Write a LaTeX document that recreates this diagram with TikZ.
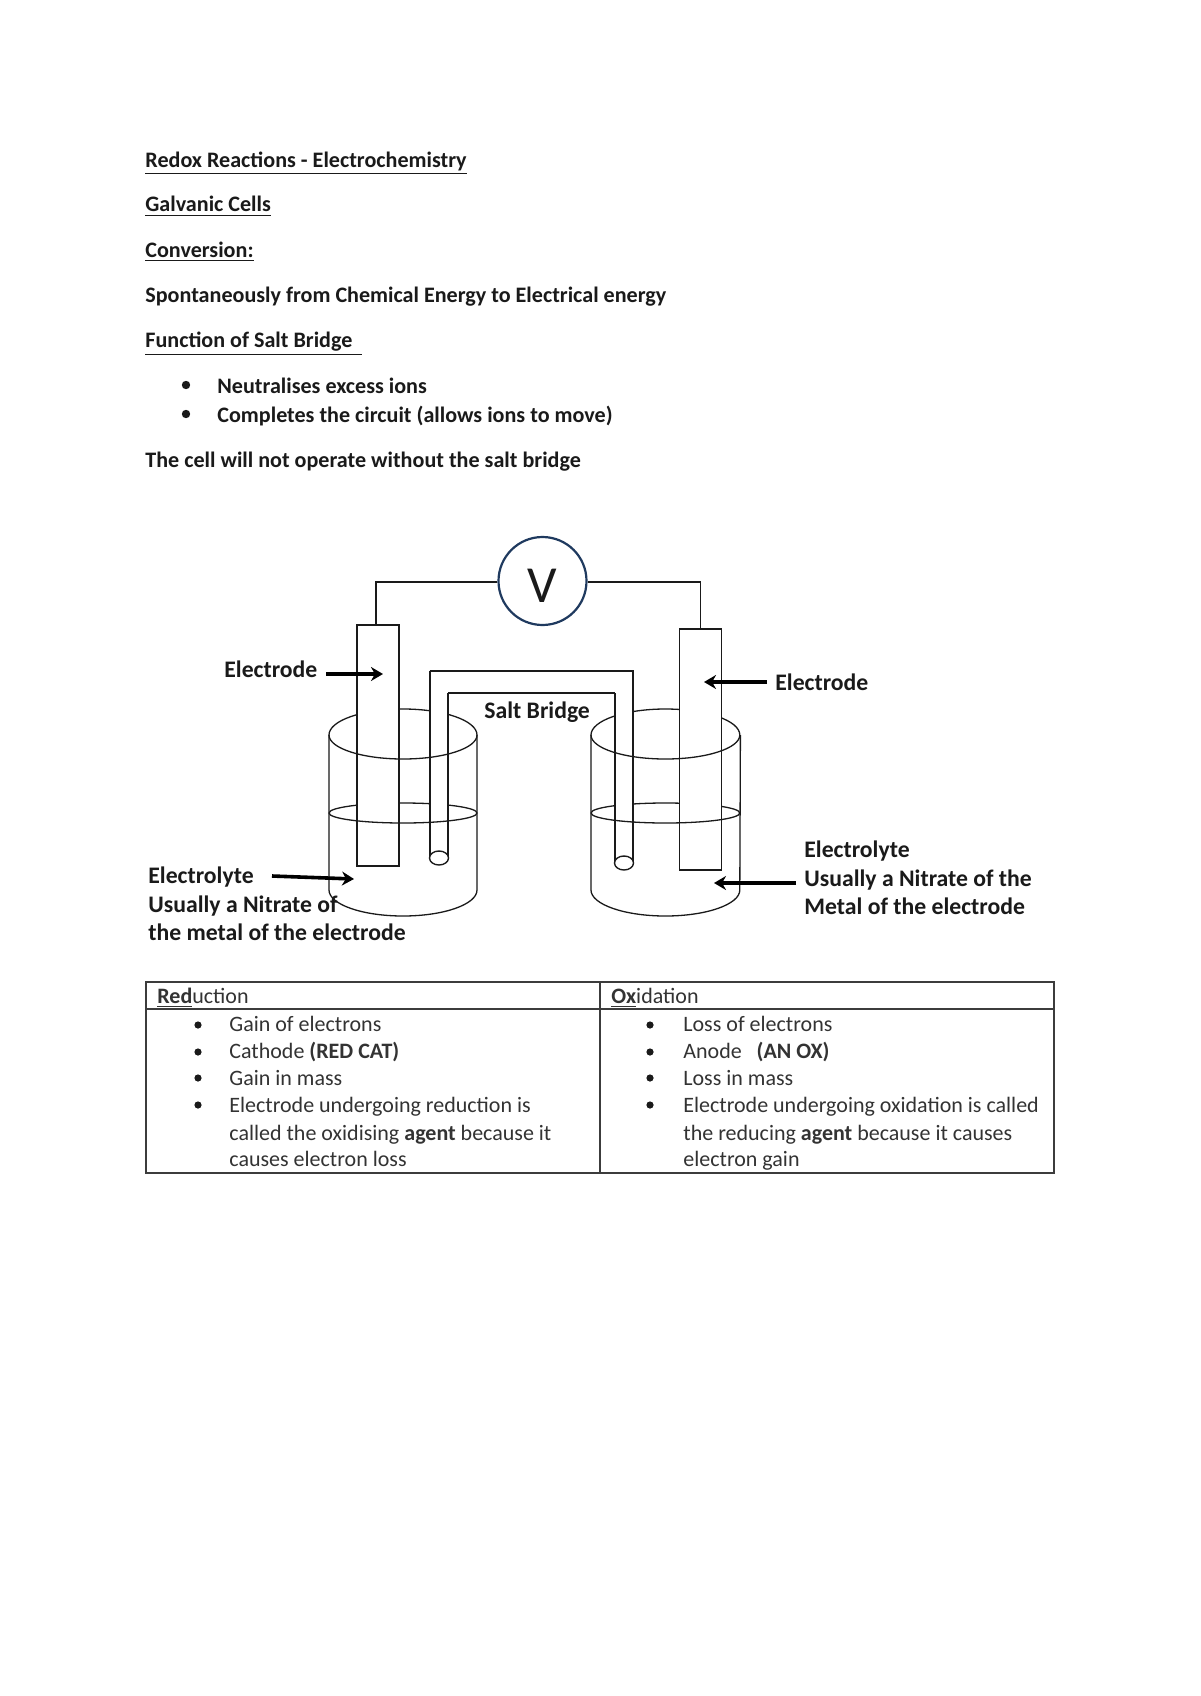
\documentclass[tikz,border=0pt]{standalone}
\usepackage{fontspec}
\setmainfont{Carlito}
\usetikzlibrary{arrows.meta,shapes.geometric}
\definecolor{ink}{HTML}{1A1A1A}
\definecolor{tabletext}{HTML}{333333}
\definecolor{navy}{HTML}{1F3A5F}
\tikzset{
  txt/.style={anchor=base west,inner sep=0pt,font=\fontsize{11.05pt}{13pt}\selectfont\bfseries,text=ink},
  lab/.style={anchor=base west,inner sep=0pt,font=\fontsize{11.85pt}{14pt}\selectfont\bfseries,text=ink},
  cell/.style={anchor=base west,inner sep=0pt,font=\fontsize{11pt}{13pt}\selectfont,text=tabletext},
  blt/.style={circle,fill=ink,draw=none,inner sep=0pt,minimum size=3.6pt},
  bigblt/.style={circle,fill=ink,draw=none,inner sep=0pt,minimum size=4.2pt},
  glass/.style={draw=ink,line width=0.65pt},
  electrodebox/.style={draw=ink,fill=white,line width=0.95pt,minimum width=21pt,minimum height=120.5pt,inner sep=0pt},
  wire/.style={draw=ink,line width=1pt},
  pointer/.style={draw=black,line width=1.8pt,-{Stealth[length=6pt,width=7pt]}},
  rule/.style={draw=ink!85,line width=0.6pt},
  tubeend/.style={draw=ink,fill=white,line width=0.7pt,ellipse,minimum width=9.5pt,minimum height=7pt,inner sep=0pt},
}
\begin{document}
\begin{tikzpicture}[x=0.5pt,y=-0.5pt]
\useasboundingbox[fill=white] (0,0) rectangle (1200,1696);
% heading text
\node[txt] (t1) at (145,167.5) {\underline{Redox Reactions - Electrochemistry}};
\node[txt] (t2) at (145,212) {\underline{Galvanic Cells}};
\node[txt] (t3) at (145,257) {\underline{Conversion:}};
\node[txt] (t4) at (145,302) {Spontaneously from Chemical Energy to Electrical energy};
\node[txt] (t5) at (145,347.5) {\underline{Function of Salt Bridge\ \ }};
\node[bigblt] (b1) at (186,385) {};
\node[txt] (t6) at (217,393) {Neutralises excess ions};
\node[bigblt] (b2) at (186,414) {};
\node[txt] (t7) at (217,422) {Completes the circuit (allows ions to move)};
\node[txt] (t8) at (145,467) {The cell will not operate without the salt bridge};
% beakers: back rims
\draw[glass] (329,735) arc[start angle=180,end angle=0,x radius=37pt,y radius=13pt];
\draw[glass] (329,813) arc[start angle=180,end angle=0,x radius=37pt,y radius=5pt];
\draw[glass] (591,735) arc[start angle=180,end angle=0,x radius=37.2pt,y radius=13pt];
\draw[glass] (591,813) arc[start angle=180,end angle=0,x radius=37.2pt,y radius=5pt];
% salt bridge
\fill[white] (430,858)--(430,671)--(633,671)--(633,863)--(615,863)--(615,693)--(448,693)--(448,858)--cycle;
\draw[ink,line width=0.8pt] (430,858)--(430,671);
\draw[ink,line width=0.8pt] (633,863)--(633,671);
\draw[ink,line width=1.4pt] (429.5,671)--(633.5,671);
\draw[ink,line width=1.2pt] (448,693)--(615,693);
\draw[ink,line width=0.95pt] (448,858)--(448,693);
\draw[ink,line width=0.95pt] (615,863)--(615,693);
\node[tubeend] (tubeL) at (439,858) {};
\node[tubeend] (tubeR) at (624,863) {};
% electrodes
\node[electrodebox] (elL) at (378,745.5) {};
\node[electrodebox] (elR) at (700.5,749.5) {};
% beakers: sides and front rims
\draw[glass] (329,735)--(329,890) arc[start angle=180,end angle=360,x radius=37pt,y radius=13pt]--(477,735);
\draw[glass] (329,735) arc[start angle=180,end angle=360,x radius=37pt,y radius=12pt];
\draw[glass] (329,813) arc[start angle=180,end angle=360,x radius=37pt,y radius=5pt];
\draw[glass] (591,735)--(591,890) arc[start angle=180,end angle=360,x radius=37.2pt,y radius=13pt]--(740.4,735);
\draw[glass] (591,735) arc[start angle=180,end angle=360,x radius=37.2pt,y radius=12pt];
\draw[glass] (591,813) arc[start angle=180,end angle=360,x radius=37.2pt,y radius=5pt];
% voltmeter and wires
\node[circle,draw=navy,fill=white,line width=1.1pt,minimum size=44pt,inner sep=0pt] (V) at (542.5,581) {};
\node[inner sep=0pt,font=\fontsize{26pt}{30pt}\selectfont,text=ink] (Vt) at (542.5,586) {V};
\draw[wire] ([yshift=-0.6pt]V.west) -| ([xshift=-1pt]elL.north);
\draw[ink,line width=0.8pt] ([yshift=-0.6pt]V.east) -| (elR.north);
% labels
\node[lab] (lEL) at (224,677) {Electrode};
\node[lab] (lSB) at (484,718) {Salt Bridge};
\node[lab] (lER) at (775,690) {Electrode};
\node[lab] (lL1) at (148,883) {Electrolyte};
\node[lab] (lL2) at (148,912) {Usually a Nitrate of};
\node[lab] (lL3) at (148,940) {the metal of the electrode};
\node[lab] (lR1) at (804,857) {Electrolyte};
\node[lab] (lR2) at (804,886) {Usually a Nitrate of the};
\node[lab] (lR3) at (804,914) {Metal of the electrode};
% arrows
\coordinate (a1s) at (326,674); \coordinate (a1e) at (383,674);
\coordinate (a2s) at (272,876); \coordinate (a2e) at (354,879);
\coordinate (a3s) at (767,682); \coordinate (a3e) at (704,682);
\coordinate (a4s) at (796,883); \coordinate (a4e) at (714,883);
\draw[pointer] (a1s)--(a1e);
\draw[pointer] (a2s)--(a2e);
\draw[pointer] (a3s)--(a3e);
\draw[pointer] (a4s)--(a4e);
% table
\draw[rule] (146,982) rectangle (1054,1173);
\draw[rule] (146,1009)--(1054,1009);
\draw[rule] (600,982)--(600,1173);
\node[cell] (h1) at (157,1003) {\underline{\textbf{Red}}uction};
\node[cell] (h2) at (611,1003) {\underline{\textbf{Ox}}idation};
\foreach \n/\y in {a/1025,b/1052,c/1078,d/1105}{
  \node[blt] (l\n) at (198,\y) {};
  \node[blt] (r\n) at (650,\y) {};
}
\node[cell] (c1) at (229,1031) {Gain of electrons};
\node[cell] (c2) at (229,1058.5) {Cathode \textbf{(RED CAT)}};
\node[cell] (c3) at (229,1085) {Gain in mass};
\node[cell] (c4) at (229,1112) {Electrode undergoing reduction is};
\node[cell] (c5) at (229,1140) {called the oxidising \textbf{agent} because it};
\node[cell] (c6) at (229,1166) {causes electron loss};
\node[cell] (d1) at (683,1031) {Loss of electrons};
\node[cell] (d2) at (683,1058.5) {Anode\ \ \ \textbf{(AN OX)}};
\node[cell] (d3) at (683,1085) {Loss in mass};
\node[cell] (d4) at (683,1112) {Electrode undergoing oxidation is called};
\node[cell] (d5) at (683,1140) {the reducing \textbf{agent} because it causes};
\node[cell] (d6) at (683,1166) {electron gain};
\end{tikzpicture}
\end{document}
